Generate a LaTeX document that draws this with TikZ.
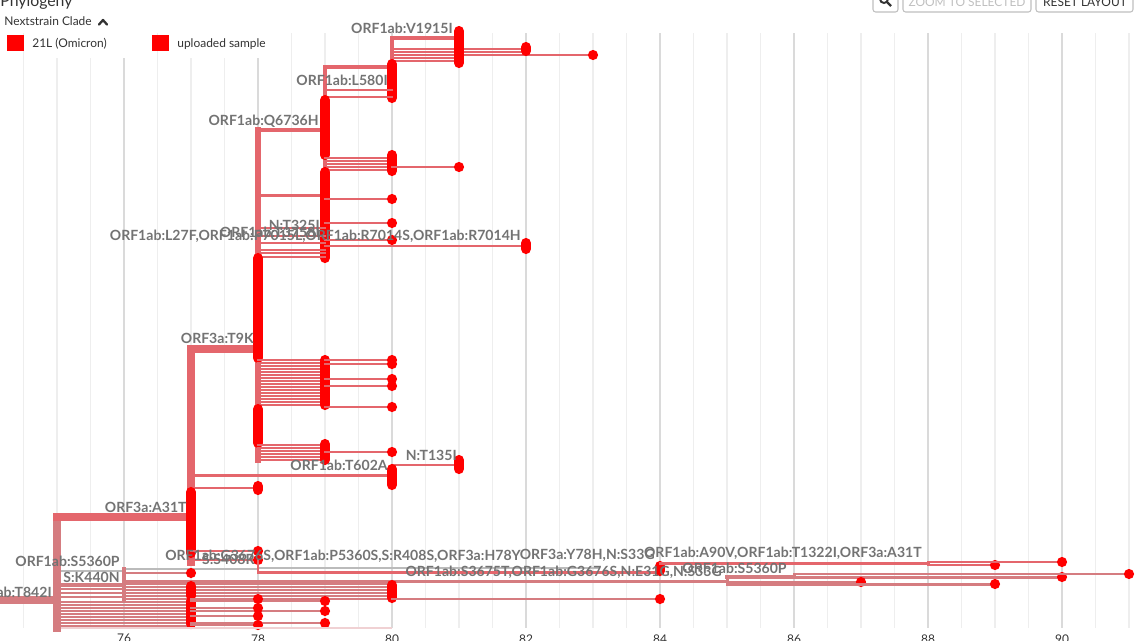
\documentclass[tikz,border=0pt]{standalone}
\usepackage{fontspec}
\setmainfont{Lato}
\definecolor{brcol}{RGB}{228,102,108}
\definecolor{brlow}{RGB}{213,124,128}
\definecolor{tipred}{RGB}{255,0,0}
\definecolor{greybr}{RGB}{187,187,187}
\definecolor{labgrey}{RGB}{115,115,115}
\definecolor{txtdark}{RGB}{51,51,51}
\definecolor{gridmin}{RGB}{238,238,238}
\definecolor{gridmaj}{RGB}{218,218,218}
\newcommand\mutfont{\fontsize{8}{9.5}\selectfont\bfseries}
\newcommand\legfont{\fontsize{6.8}{8}\selectfont}
\tikzset{
  branch/.style={draw=brcol, line width=1.25pt, line cap=rect},
  branchlo/.style={draw=brlow, line width=1.25pt, line cap=rect},
  greybranch/.style={draw=greybr, line width=1.5pt},
  w3/.style={line width=1.7pt}, w4/.style={line width=2.3pt},
  w5/.style={line width=2.8pt}, w6/.style={line width=3.6pt},
  w8/.style={line width=4.6pt},
  tipbar/.style={draw=tipred, line width=5.8pt, line cap=round},
  tipdot/.style={circle, fill=tipred, inner sep=0pt, minimum size=5.8pt},
  mut/.style={text=labgrey, font=\mutfont, inner sep=0pt, anchor=east},
  plain/.style={text=txtdark, font=\legfont, inner sep=0pt, anchor=base west},
  button/.style={draw=black!25, line width=0.6pt, rounded corners=1.5pt}
}
\begin{document}
\begin{tikzpicture}[x=0.02cm, y=-0.02cm]
  \useasboundingbox (0,0) rectangle (1146,640);
  \clip (0,0) rectangle (1146,640);
  % time grid
  \foreach \t in {74.5,75,...,91} \draw[gridmin, line width=0.6pt] ({124+(\t-76)*67},33) -- ++(0,595);
  \foreach \t in {76,78,...,90} {
    \draw[gridmaj, line width=1.1pt] ({124+(\t-76)*67},33) -- ++(0,595);
    \node[text=txtdark, font=\legfont, inner sep=0pt, anchor=north] (tick\t) at ({124+(\t-76)*67},634) {\t};
  }
  \fill[white] (28,33) rectangle (150,58);
  \fill[white] (172,33) rectangle (272,58);
  % header and legend
  \node[plain, font=\fontsize{9}{11}\selectfont] (title) at (0,6) {Phylogeny};
  \node[plain] (cladehdr) at (4,25) {Nextstrain Clade};
  \draw[txtdark, line width=1.3pt, line cap=round, line join=round] (99,24.5) -- (103,20) -- (107,24.5);
  \fill[tipred] (7,35) rectangle (24,51);
  \node[plain] (leg1) at (32,47) {21L (Omicron)};
  \fill[tipred] (152,35) rectangle (169,51);
  \node[plain] (leg2) at (177,47) {uploaded sample};
  \draw[button] (873,-12) rectangle (898,12);
  \draw[txtdark, line width=1.1pt] (884,-1) circle (4);
  \draw[txtdark, line width=1.3pt] (887,2) -- (891,6);
  \draw[button] (903,-12) rectangle (1031,12);
  \node[text=black!25, font=\legfont, inner sep=0pt, anchor=base] (zoombtn) at (967,6) {ZOOM TO SELECTED};
  \draw[button] (1036,-12) rectangle (1133,12);
  \node[text=txtdark, font=\legfont, inner sep=0pt, anchor=base] (resetbtn) at (1085,6) {RESET LAYOUT};

  % internal nodes
  \coordinate (root) at (57,600);
  \coordinate (nA31T) at (191,517);
  \coordinate (nT9K) at (258,349);
  \coordinate (nQ6736H) at (325,130);
  \coordinate (nL580I) at (392,67);
  \coordinate (nV1915I) at (459,38);
  \coordinate (nLow) at (325,195);
  \coordinate (nT602A) at (392,475);
  \coordinate (nS408R) at (258,560);
  \coordinate (nG3676S) at (526,572);
  \coordinate (nY78H) at (660,572);
  \coordinate (nA90V) at (928,563);
  \coordinate (nS5360P) at (124,571);
  \coordinate (nK440N) at (124,585);
  \coordinate (nS3675T) at (727,581);
  \coordinate (nS5360Pb) at (794,577);

  % bottom clade (grey and muted)
  \draw[greybranch] (root |- nS5360P) -- (nS5360P);
  \draw[greybranch] (124,569) -- (258,569);
  \draw[greybranch] (258,568) -- (600,568);
  \draw[branchlo, w4] (124,569) -- (124,600);
  \draw[branchlo, w4] (root |- nK440N) -- (nK440N);
  \foreach \y in {589,593,597} \draw[branchlo] (57,\y) -- (124,\y);
  \draw[branchlo] (124,573) -- (191,573) node[tipdot] {};
  \draw[branchlo, w3] (nK440N |- nS3675T) -- (nS3675T);
  \foreach \y in {584,587,...,599} \draw[branchlo] (124,\y) -- (392,\y);
  \draw[tipbar] (191,586) -- (191,596);
  \draw[tipbar] (392,585) -- (392,598);
  \draw[branchlo] (392,599) -- (660,599) node[tipdot] {};
  \draw[branchlo, w3] (727,577) -- (727,584);
  \draw[branchlo, w4] (nS3675T |- nS5360Pb) -- (nS5360Pb);
  \draw[branchlo, w3] (nS5360Pb) -- (1062,577) node[tipdot] {};
  \draw[branchlo] (794,574) -- (794,577);
  \draw[branchlo] (794,574) -- (1129,574) node[tipdot] {};
  \draw[branchlo] (727,582) -- (861,582) node[tipdot] {};
  \draw[branchlo, w3] (727,584) -- (995,584) node[tipdot] {};
  \foreach \y in {602,605,...,626} \draw[branchlo] (57,\y) -- (191,\y);
  \draw[tipbar] (191,601) -- (191,624);
  \foreach \y in {601,611,623} \draw[branchlo] (191,\y) -- (325,\y) node[tipdot] {};
  \foreach \y in {599,608,616,625} \draw[branchlo] (191,\y) -- (258,\y) node[tipdot] {};
  \draw[brlow!35, line width=1.2pt] (57,628) -- (392,628);

  % backbone
  \draw[branchlo, w8] (0,600) -- (root);
  \draw[branchlo, w8] (root |- nA31T) -- (57,628);
  \draw[branch, w8] (root |- nA31T) -- (nA31T);
  \draw[branch, w8] (nA31T |- nT9K) -- (191,562);
  \draw[branch, w8] (nA31T |- nT9K) -- (nT9K);
  \draw[branch, w6] (nT9K |- nQ6736H) -- (258,460);
  \draw[branch, w5] (nT9K |- nQ6736H) -- (nQ6736H);
  \draw[branch, w4] (nQ6736H |- nL580I) -- (325,170);
  \draw[branch, w5] (nQ6736H |- nL580I) -- (nL580I);
  \draw[branch, w4] (nL580I |- nV1915I) -- (392,62);
  \draw[branch, w4] (nL580I |- nV1915I) -- (nV1915I);

  % V1915I and L580I clades
  \foreach \y in {49,52} \draw[branch] (392,\y) -- (526,\y);
  \draw[branch] (392,55) -- (593,55) node[tipdot] {};
  \foreach \y in {58,61} \draw[branch] (392,\y) -- (459,\y);
  \draw[tipbar] (459,31) -- (459,63);
  \draw[tipbar] (526,47) -- (526,51);
  \draw[tipbar] (392,64) -- (392,98);
  \foreach \y in {90,97} \draw[branch] (325,\y) -- (392,\y);
  \draw[tipbar] (325,100) -- (325,155);
  \foreach \y in {158,161,...,170} \draw[branch] (325,\y) -- (392,\y);
  \draw[tipbar] (392,155) -- (392,171);
  \draw[branch] (392,167) -- (459,167) node[tipdot] {};

  % second Q6736H-side clade
  \draw[branch, w3] (nT9K |- nLow) -- (nLow);
  \draw[branch] (nLow) -- (325,260);
  \draw[tipbar] (325,172) -- (325,258);
  \foreach \y in {199,223,240} \draw[branch] (325,\y) -- (392,\y) node[tipdot] {};
  \draw[branch] (325,246) -- (526,246);
  \draw[tipbar] (526,243) -- (526,249);
  \foreach \y in {228,236,243,250,253,257} \draw[branch] (258,\y) -- (325,\y);

  % T9K tips
  \draw[tipbar] (258,258) -- (258,358);
  \foreach \y in {360,363,...,406} \draw[branch] (258,\y) -- (325,\y);
  \draw[tipbar] (325,360) -- (325,405);
  \foreach \y in {360,364,379,386,407} \draw[branch] (325,\y) -- (392,\y) node[tipdot] {};
  \draw[tipbar] (258,409) -- (258,443);
  \foreach \y in {445,448,...,460} \draw[branch] (258,\y) -- (325,\y);
  \draw[tipbar] (325,444) -- (325,460);
  \draw[branch] (325,452) -- (392,452) node[tipdot] {};

  % A31T tips
  \draw[branch, w3] (nA31T |- nT602A) -- (nT602A);
  \draw[branch] (392,465) -- (459,465);
  \draw[tipbar] (459,460) -- (459,469);
  \draw[tipbar] (392,469) -- (392,485);
  \draw[branch] (191,488) -- (258,488);
  \draw[tipbar] (258,486) -- (258,490);
  \draw[tipbar] (191,492) -- (191,553);
  \draw[branch] (191,551) -- (258,551) node[tipdot] {};
  \draw[branch] (nA31T |- nS408R) -- (nS408R) node[tipdot] {};
  \draw[branch] (nS408R) -- (258,572);
  \draw[branch, w3] (258,572) -- (nG3676S);
  \draw[branch, w3] (nG3676S) -- (nY78H);
  \draw[branch] (nY78H) -- (660,563);
  \draw[tipbar] (660,566) -- (660,571);
  \draw[branch, w3] (660,563) -- (nA90V);
  \draw[branch] (928,562) -- (928,565);
  \draw[branch] (928,565) -- (995,565) node[tipdot] {};
  \draw[branch] (928,562) -- (1062,562) node[tipdot] {};

  % mutation labels
  \node[mut] (lV1915I) at (453,28) {ORF1ab:V1915I};
  \node[mut] (lL580I) at (388,80) {ORF1ab:L580I};
  \node[mut] (lQ6736H) at (319,121) {ORF1ab:Q6736H};
  \node[mut] (lT3758I) at (320,232) {ORF1ab:T3758I};
  \node[mut] (lT325I) at (320,225) {N:T325I};
  \node[mut] (lL27F) at (521,236) {ORF1ab:L27F,ORF1ab:P7015L,ORF1ab:R7014S,ORF1ab:R7014H};
  \node[mut] (lT9K) at (254,338) {ORF3a:T9K};
  \node[mut] (lT602A) at (388,465) {ORF1ab:T602A};
  \node[mut] (lT135I) at (457,455) {N:T135I};
  \node[mut] (lA31T) at (187,507) {ORF3a:A31T};
  \node[mut] (lG3676S) at (521,556) {ORF1ab:G3676S,ORF1ab:P5360S,S:R408S,ORF3a:H78Y};
  \node[mut] (lS408R) at (255,559) {S:S408R};
  \node[mut] (lY78H) at (655,555) {ORF3a:Y78H,N:S33G};
  \node[mut] (lA90V) at (922,553) {ORF1ab:A90V,ORF1ab:T1322I,ORF3a:A31T};
  \node[mut] (lS3675T) at (722,572) {ORF1ab:S3675T,ORF1ab:G3676S,N:E31G,N:S33G};
  \node[mut] (lS5360Pb) at (787,568) {ORF1ab:S5360P};
  \node[mut] (lS5360P) at (120,561) {ORF1ab:S5360P};
  \node[mut] (lK440N) at (120,577) {S:K440N};
  \node[mut] (lT842I) at (52,592) {ORF1ab:T842I};
\end{tikzpicture}
\end{document}
